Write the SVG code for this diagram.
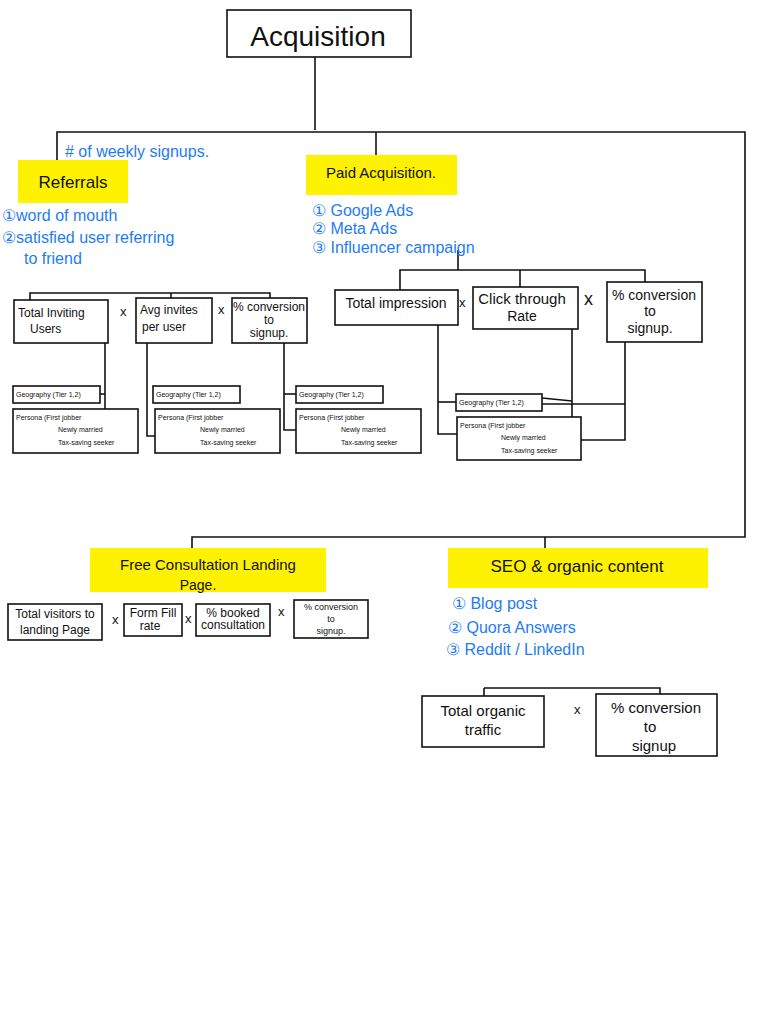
<svg xmlns="http://www.w3.org/2000/svg" width="768" height="1024" viewBox="0 0 768 1024">
<style>
rect.b{fill:#fff;stroke:#111;stroke-width:1.6}
rect.h{fill:#fff200;stroke:none}
.c line,.c polyline{stroke:#111;stroke-width:1.6;fill:none}
text{font-family:"Liberation Sans",Arial,sans-serif;fill:#111}
.t{font-size:12px}
.s{font-size:7px}
.bl{fill:#1e7cf2;font-size:16px}
.x{font-size:13px}
</style>
<rect width="768" height="1024" fill="#fff"/>
<g class="c">
<line x1="315" y1="57" x2="315" y2="130"/>
<polyline points="57,160 57,132 745,132 745,537 192,537 192,548"/>
<line x1="376" y1="132" x2="376" y2="157"/>
<line x1="545" y1="537" x2="545" y2="548"/>
<polyline points="30,300 30,293 270,293 270,298"/>
<line x1="171" y1="293" x2="171" y2="298"/>
<line x1="105" y1="343" x2="105" y2="411"/>
<line x1="100" y1="394" x2="105" y2="394"/>
<polyline points="147,343 147,436 155,436"/>
<polyline points="284,343 284,430 296,430"/>
<line x1="284" y1="394" x2="296" y2="394"/>
<polyline points="400,290 400,270 645,270 645,282"/>
<line x1="520" y1="270" x2="520" y2="287"/>
<line x1="458" y1="250" x2="458" y2="270"/>
<polyline points="438,325 438,434 457,434"/>
<line x1="438" y1="402" x2="456" y2="402"/>
<line x1="572" y1="329" x2="572" y2="417"/>
<polyline points="625,342 625,440 581,440"/>
<line x1="542" y1="404" x2="625" y2="404"/>
<line x1="542" y1="398" x2="572" y2="401"/>
<line x1="484" y1="696" x2="484" y2="688"/>
<polyline points="484,688 660,688 660,694"/>
</g>
<g id="acq"><rect class="b" x="227" y="10" width="184" height="47"/><text x="318" y="46" text-anchor="middle" font-size="28">Acquisition</text></g>
<g id="referrals"><rect class="h" x="18" y="160" width="110" height="43"/><text x="73" y="188" text-anchor="middle" font-size="17">Referrals</text>
<text class="bl" x="65" y="157">#  of weekly  signups.</text>
<text class="bl" x="2" y="221">①word of mouth</text>
<text class="bl" x="2" y="243">②satisfied user referring</text>
<text class="bl" x="24" y="264">to friend</text></g>
<g id="r1"><rect class="b" x="14" y="300" width="94" height="43"/><text class="t" x="18" y="317">Total Inviting</text><text class="t" x="30" y="333">Users</text></g>
<text class="x" x="120" y="316">x</text>
<g id="r2"><rect class="b" x="136" y="298" width="76" height="45"/><text class="t" x="140" y="314">Avg  invites</text><text class="t" x="142" y="331">per user</text></g>
<text class="x" x="218" y="314">x</text>
<g id="r3"><rect class="b" x="232" y="298" width="75" height="45"/><text class="t" x="269" y="311" text-anchor="middle" font-size="11">% conversion</text><text class="t" x="269" y="324" text-anchor="middle" font-size="11">to</text><text class="t" x="269" y="337" text-anchor="middle" font-size="11">signup.</text></g>
<g id="g1"><rect class="b" x="13" y="386" width="87" height="17"/><text class="s" x="16" y="397">Geography (Tier 1,2)</text></g>
<g id="p1"><rect class="b" x="13" y="409" width="125" height="44"/><text class="s" x="16" y="420">Persona (First jobber</text><text class="s" x="58" y="432">Newly married</text><text class="s" x="58" y="445">Tax-saving seeker</text></g>
<g id="g2"><rect class="b" x="153" y="386" width="87" height="17"/><text class="s" x="156" y="397">Geography (Tier 1,2)</text></g>
<g id="p2"><rect class="b" x="155" y="409" width="125" height="44"/><text class="s" x="158" y="420">Persona (First jobber</text><text class="s" x="200" y="432">Newly married</text><text class="s" x="200" y="445">Tax-saving seeker</text></g>
<g id="g3"><rect class="b" x="296" y="386" width="87" height="17"/><text class="s" x="299" y="397">Geography (Tier 1,2)</text></g>
<g id="p3"><rect class="b" x="296" y="409" width="125" height="44"/><text class="s" x="299" y="420">Persona (First jobber</text><text class="s" x="341" y="432">Newly married</text><text class="s" x="341" y="445">Tax-saving seeker</text></g>
<g id="paid"><rect class="h" x="306" y="155" width="151" height="40"/><text x="381" y="178" text-anchor="middle" font-size="15">Paid Acquisition.</text>
<text class="bl" x="312" y="216" font-size="18">①   Google Ads</text>
<text class="bl" x="312" y="234" font-size="18">②   Meta Ads</text>
<text class="bl" x="312" y="253" font-size="18">③   Influencer  campaign</text></g>
<g id="pa1"><rect class="b" x="335" y="290" width="123" height="35"/><text x="396" y="308" text-anchor="middle" font-size="14">Total impression</text></g>
<text class="x" x="459" y="307">x</text>
<g id="pa2"><rect class="b" x="473" y="287" width="105" height="42"/><text x="522" y="304" text-anchor="middle" font-size="15">Click through</text><text x="522" y="321" text-anchor="middle" font-size="14">Rate</text></g>
<text x="584" y="305" font-size="18">x</text>
<g id="pa3"><rect class="b" x="607" y="282" width="95" height="60"/><text x="654" y="300" text-anchor="middle" font-size="14">% conversion</text><text x="650" y="316" text-anchor="middle" font-size="14">to</text><text x="650" y="333" text-anchor="middle" font-size="14">signup.</text></g>
<g id="g4"><rect class="b" x="456" y="394" width="86" height="17"/><text class="s" x="459" y="405">Geography (Tier 1,2)</text></g>
<g id="p4"><rect class="b" x="457" y="417" width="124" height="43"/><text class="s" x="460" y="428">Persona (First jobber</text><text class="s" x="501" y="440">Newly married</text><text class="s" x="501" y="453">Tax-saving seeker</text></g>
<g id="free"><rect class="h" x="90" y="548" width="236" height="44"/><text x="208" y="570" text-anchor="middle" font-size="15">Free  Consultation  Landing</text><text x="198" y="590" text-anchor="middle" font-size="14">Page.</text></g>
<g id="f1"><rect class="b" x="8" y="604" width="94" height="36"/><text class="t" x="55" y="618" text-anchor="middle" font-size="11">Total visitors to</text><text class="t" x="55" y="634" text-anchor="middle" font-size="11">landing Page</text></g>
<text class="x" x="112" y="624">x</text>
<g id="f2"><rect class="b" x="124" y="604" width="58" height="32"/><text class="t" x="153" y="617" text-anchor="middle" font-size="11">Form Fill</text><text class="t" x="150" y="630" text-anchor="middle" font-size="11">rate</text></g>
<text class="x" x="185" y="623">x</text>
<g id="f3"><rect class="b" x="196" y="604" width="74" height="32"/><text class="t" x="233" y="617" text-anchor="middle" font-size="10">% booked</text><text class="t" x="233" y="629" text-anchor="middle" font-size="10">consultation</text></g>
<text class="x" x="278" y="616">x</text>
<g id="f4"><rect class="b" x="294" y="600" width="74" height="38"/><text x="331" y="610" text-anchor="middle" font-size="9">% conversion</text><text x="331" y="622" text-anchor="middle" font-size="9">to</text><text x="331" y="634" text-anchor="middle" font-size="9">signup.</text></g>
<g id="seo"><rect class="h" x="448" y="548" width="260" height="40"/><text x="577" y="572" text-anchor="middle" font-size="17">SEO  &amp;  organic  content</text>
<text class="bl" x="452" y="609" font-size="18">①   Blog post</text>
<text class="bl" x="448" y="633" font-size="18">②   Quora  Answers</text>
<text class="bl" x="446" y="655" font-size="18">③ Reddit / LinkedIn</text></g>
<g id="s1"><rect class="b" x="422" y="696" width="122" height="51"/><text x="483" y="716" text-anchor="middle" font-size="15">Total organic</text><text x="483" y="735" text-anchor="middle" font-size="15">traffic</text></g>
<text class="x" x="574" y="714">x</text>
<g id="s2"><rect class="b" x="596" y="694" width="121" height="62"/><text x="656" y="713" text-anchor="middle" font-size="15">% conversion</text><text x="650" y="732" text-anchor="middle" font-size="15">to</text><text x="654" y="751" text-anchor="middle" font-size="15">signup</text></g>
</svg>
